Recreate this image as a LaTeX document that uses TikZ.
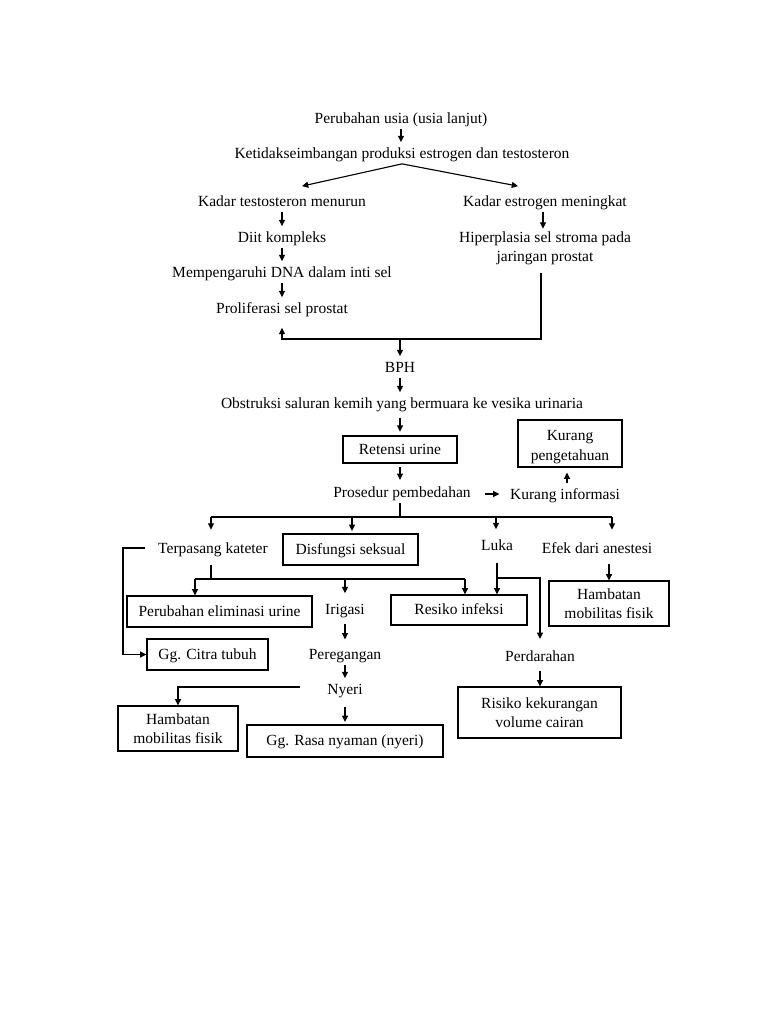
\documentclass[tikz,border=0pt]{standalone}
\usepackage{fontspec}
\setmainfont{Liberation Serif}
\usetikzlibrary{arrows.meta,calc}
\begin{document}
\begin{tikzpicture}[x=0.8pt,y=-0.8pt,
  every node/.style={font=\fontsize{12.4}{15.4}\selectfont, inner sep=2pt},
  txt/.style={text height=11pt, text depth=2pt},
  btxt/.style={text height=10.3pt, text depth=2.7pt},
  ml/.style={align=center},
  box/.style 2 args={draw, line width=0.9pt, align=center, minimum width=#1pt, minimum height=#2pt},
  arr/.style={line width=0.9pt, -{Triangle[length=5pt,width=4.8pt]}},
  ln/.style={line width=0.9pt}
]
\useasboundingbox (0,0) rectangle (768,1024);
\fill[white] (0,0) rectangle (768,1024);

% nodes
\node[txt] (t1) at (401,118) {Perubahan usia (usia lanjut)};
\node[txt] (t2) at (402,153) {Ketidakseimbangan produksi estrogen dan testosteron};
\node[txt] (t3) at (282,201) {Kadar testosteron menurun};
\node[txt] (t4) at (545,201) {Kadar estrogen meningkat};
\node[txt] (t5) at (282,237) {Diit kompleks};
\node[txt] (t6) at (282,272) {Mempengaruhi DNA dalam inti sel};
\node[txt] (t7) at (282,308) {Proliferasi sel prostat};
\node[ml] (t8) at (545,248) {Hiperplasia sel stroma pada\\jaringan prostat};
\node[txt] (bph) at (400,367) {BPH};
\node[txt] (obs) at (402,403) {Obstruksi saluran kemih yang bermuara ke vesika urinaria};
\node[box={91.2}{21.6},btxt] (ret) at (400,449.5) {Retensi urine};
\node[txt] (pros) at (402,492) {Prosedur pembedahan};
\node[txt] (kinf) at (565,494) {Kurang informasi};
\node[box={83.2}{37.6}] (kpeng) at (570,443.5) {\rule{0pt}{14pt}Kurang\\pengetahuan};
\node[txt] (terp) at (213,548) {Terpasang kateter};
\node[box={108}{24.8},btxt] (disf) at (350.5,549.5) {Disfungsi seksual};
\node[txt] (luka) at (497,545) {Luka};
\node[txt] (efek) at (597,548) {Efek dari anestesi};
\node[box={96}{36}] (hamb1) at (609,603.5) {Hambatan\\mobilitas fisik};
\node[box={148}{24.8},btxt] (perub) at (219.5,611.5) {Perubahan eliminasi urine};
\node[txt] (irig) at (345,609) {Irigasi};
\node[box={108.8}{24},btxt] (resiko) at (459,610) {Resiko infeksi};
\node[box={96.8}{24.8},btxt] (citra) at (207.5,654.5) {Gg. Citra tubuh};
\node[txt] (pereg) at (345,654) {Peregangan};
\node[txt] (perd) at (540,656) {Perdarahan};
\node[txt] (nyeri) at (345,689) {Nyeri};
\node[box={130.4}{40.8}] (risk) at (539.5,712.5) {Risiko kekurangan\\volume cairan};
\node[box={96}{36}] (hamb2) at (178,728.5) {Hambatan\\mobilitas fisik};
\node[box={156.8}{25.6},btxt] (rasa) at (345,741) {Gg. Rasa nyaman (nyeri)};

% junction coordinates
\coordinate (jb) at (400,339);
\coordinate (jp) at (400,517);
\coordinate (a1) at (211,517);
\coordinate (a2) at (352,517);
\coordinate (a3) at (496,517);
\coordinate (a4) at (612,517);
\coordinate (c1) at (123,548);
\coordinate (c2) at (211,579);
\coordinate (c3) at (195,579);
\coordinate (c4) at (465,579);
\coordinate (c5) at (497,578);
\coordinate (c6) at (540,578);

% connectors
\draw[arr] (t1.south) -- (t1.south |- t2.north);
\draw[arr] (t2.south) -- ($(t3.north)+(20,-4)$);
\draw[arr] (t2.south) -- ($(t4.north)+(-27,-4)$);
\draw[arr] (t3) -- (t5);
\draw[arr] (t5) -- (t6);
\draw[arr] (t6) -- (t7);
\draw[arr] ($(t4.south)+(-2,0)$) -- ($(t4.south |- t8.north)+(-2,0)$);
\draw[arr] ($(t8.south)+(-4,6)$) -- ($(t8.south |- jb)+(-4,0)$) -- (t7.south |- jb) -- ($(t7.south)+(0,9)$);
\draw[arr] (jb) -- (bph.north);
\draw[arr] (bph.south) -- (bph.south |- obs.north);
\draw[arr, shorten <=3pt, shorten >=3pt] (obs.south -| ret.north) -- (ret.north);
\draw[arr, shorten <=3pt, shorten >=1pt] (ret.south) -- (ret.south |- pros.north);
\draw[arr] ($(pros.east |- kinf.west)+(12,0)$) -- ($(kinf.west)+(-8,0)$);
\draw[arr, shorten >=4pt] ($(kinf.north)+(2,0)$) -- ($(kinf.north |- kpeng.south)+(2,0)$);

\draw[ln] (pros.south -| jp) -- (jp);
\draw[ln] (a1) -- (a4);
\draw[arr, shorten >=6pt] (a1) -- (a1 |- terp.north);
\draw[arr, shorten >=2pt] (a2) -- (a2 |- disf.north);
\draw[arr, shorten >=4pt] (a3) -- (a3 |- luka.north);
\draw[arr, shorten >=6pt] (a4) -- (a4 |- efek.north);

\draw[arr] ($(terp.west)+(-10,0)$) -- (c1) |- (citra.west);
\draw[ln] ($(terp.south -| c2)+(0,6)$) -- (c2);
\draw[ln] (c3) -- (c4);
\draw[arr] (c3) -- (c3 |- perub.north);
\draw[arr, shorten >=4pt] (c3 -| irig) -- (irig.north);
\draw[arr] (c4) -- (c4 |- resiko.north);

\draw[arr] ($(luka.south)+(0,7)$) -- (luka.south |- resiko.north);
\draw[arr, shorten >=5pt] (c5) -- (c6) -- (c6 |- perd.north);
\draw[arr, shorten <=4pt] (efek.south -| hamb1.north) -- (hamb1.north);

\draw[arr, shorten <=3pt, shorten >=3pt] (irig) -- (pereg);
\draw[arr] (pereg) -- (nyeri);
\draw[arr] ($(nyeri.west)+(-25,-2)$) -| (hamb2.north);
\draw[arr, shorten <=6pt, shorten >=2pt] (nyeri) -- (rasa);
\draw[arr, shorten <=3pt] (perd) -- (perd |- risk.north);
\end{tikzpicture}
\end{document}
